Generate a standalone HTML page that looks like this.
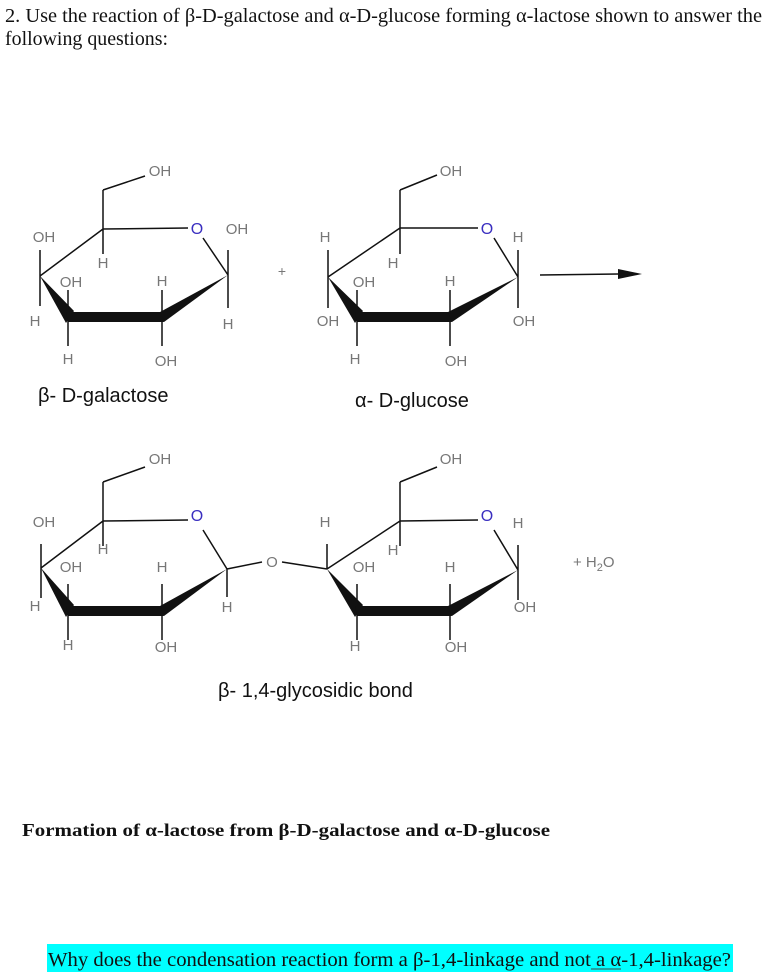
<!DOCTYPE html>
<html><head><meta charset="utf-8"><style>
html,body{margin:0;padding:0;background:#fff;}
svg{display:block;}
.l{font-family:"Liberation Sans",sans-serif;font-size:15px;fill:#777;text-anchor:middle;}
.o{font-family:"Liberation Sans",sans-serif;font-size:16px;fill:#3a2fc0;text-anchor:middle;}
.cap{font-family:"Liberation Sans",sans-serif;font-size:20px;fill:#111;}
.ser{font-family:"Liberation Serif",serif;font-size:20px;fill:#111;}
</style></head><body>
<svg width="766" height="975" viewBox="0 0 766 975" xmlns="http://www.w3.org/2000/svg">
<text class="ser" x="5" y="22" textLength="757" lengthAdjust="spacingAndGlyphs">2. Use the reaction of β-D-galactose and α-D-glucose forming α-lactose shown to answer the</text>
<text class="ser" x="5" y="45" textLength="163" lengthAdjust="spacingAndGlyphs">following questions:</text>

<g stroke="#111" stroke-width="1.5" fill="none">
<path d="M103,190 L145,176 M103,190 V229 M103,229 L188,228 M203,238 L228,275 M228,275 V250 M228,275 V308 M103,229 L40,276 M40,276 V250 M40,276 V306 M103,229 V254 M68,317 V290 M68,317 V346 M162,317 V290 M162,317 V346"/>
<path d="M400,190 L437,175 M400,190 V228 M400,228 L478,228 M494,238 L518,277 M518,277 V250 M518,277 V308 M400,228 L328,277 M328,277 V250 M328,277 V308 M400,228 V254 M357,317 V290 M357,317 V346 M450,317 V290 M450,317 V346"/>
<path d="M540,275 L618,274"/>
<path d="M103,482 L145,467 M103,482 V521 M103,521 L188,520 M203,530 L227,569 M227,569 V597 M103,521 L41,568 M41,568 V544 M41,568 V598 M103,521 V546 M68,611 V584 M68,611 V640 M162,611 V584 M162,611 V640 M227,569 L262,562 M282,562 L327,569"/>
<path d="M400,482 L437,467 M400,482 V521 M400,521 L478,520 M494,530 L518,570 M518,570 V545 M518,570 V600 M400,521 L327,569 M327,569 V544 M400,521 V546 M357,611 V584 M357,611 V640 M450,611 V584 M450,611 V640"/>
</g>
<g fill="#111">
<polygon points="40,276 74,311 66,323"/>
<polygon points="66,312 162,312 164,322 68,322"/>
<polygon points="160,312 228,275 164,322"/>
<polygon points="328,277 363,311 355,323"/>
<polygon points="355,312 450,312 452,322 357,322"/>
<polygon points="448,312 518,277 452,322"/>
<polygon points="618,269 642,274 618,279"/>
<polygon points="41,568 74,605 66,617"/>
<polygon points="66,606 162,606 164,616 68,616"/>
<polygon points="160,606 227,569 164,616"/>
<polygon points="327,569 363,605 355,617"/>
<polygon points="355,606 450,606 452,616 357,616"/>
<polygon points="448,606 518,570 452,616"/>
</g>

<text class="l" x="160" y="176">OH</text>
<text class="o" x="197" y="234">O</text>
<text class="l" x="237" y="234">OH</text>
<text class="l" x="228" y="329">H</text>
<text class="l" x="44" y="242">OH</text>
<text class="l" x="35" y="326">H</text>
<text class="l" x="103" y="268">H</text>
<text class="l" x="71" y="287">OH</text>
<text class="l" x="68" y="364">H</text>
<text class="l" x="162" y="286">H</text>
<text class="l" x="166" y="366">OH</text>
<text class="l" x="282" y="276" style="font-size:14px">+</text>
<text class="l" x="451" y="176">OH</text>
<text class="o" x="487" y="234">O</text>
<text class="l" x="518" y="242">H</text>
<text class="l" x="524" y="326">OH</text>
<text class="l" x="325" y="242">H</text>
<text class="l" x="328" y="326">OH</text>
<text class="l" x="393" y="268">H</text>
<text class="l" x="364" y="287">OH</text>
<text class="l" x="355" y="364">H</text>
<text class="l" x="450" y="286">H</text>
<text class="l" x="456" y="366">OH</text>
<text class="cap" x="38" y="402">β- D-galactose</text>
<text class="cap" x="355" y="407">α- D-glucose</text>

<text class="l" x="160" y="464">OH</text>
<text class="o" x="197" y="521">O</text>
<text class="l" x="227" y="612">H</text>
<text class="l" x="44" y="527">OH</text>
<text class="l" x="35" y="611">H</text>
<text class="l" x="103" y="554">H</text>
<text class="l" x="71" y="572">OH</text>
<text class="l" x="68" y="650">H</text>
<text class="l" x="162" y="572">H</text>
<text class="l" x="166" y="652">OH</text>
<text class="l" x="272" y="567">O</text>
<text class="l" x="451" y="464">OH</text>
<text class="o" x="487" y="521">O</text>
<text class="l" x="518" y="528">H</text>
<text class="l" x="525" y="612">OH</text>
<text class="l" x="325" y="527">H</text>
<text class="l" x="393" y="555">H</text>
<text class="l" x="364" y="572">OH</text>
<text class="l" x="355" y="651">H</text>
<text class="l" x="450" y="572">H</text>
<text class="l" x="456" y="652">OH</text>
<text x="573" y="567" style="font-family:'Liberation Sans',sans-serif;font-size:15px;fill:#777">+  H<tspan dy="4" style="font-size:11px">2</tspan><tspan dy="-4">O</tspan></text>
<text class="cap" x="218" y="697">β- 1,4-glycosidic bond</text>

<text x="22" y="836" textLength="528" lengthAdjust="spacingAndGlyphs" style="font-family:'Liberation Serif',serif;font-size:18px;font-weight:bold;fill:#111">Formation of α-lactose from β-D-galactose and α-D-glucose</text>

<rect x="47" y="944" width="686" height="28" fill="#00ffff"/>
<text class="ser" x="48" y="966" textLength="683" lengthAdjust="spacingAndGlyphs">Why does the condensation reaction form a β-1,4-linkage and not a  α-1,4-linkage?</text>
<line x1="591" y1="969" x2="621" y2="969" stroke="#444" stroke-width="1"/>
</svg>
</body></html>
